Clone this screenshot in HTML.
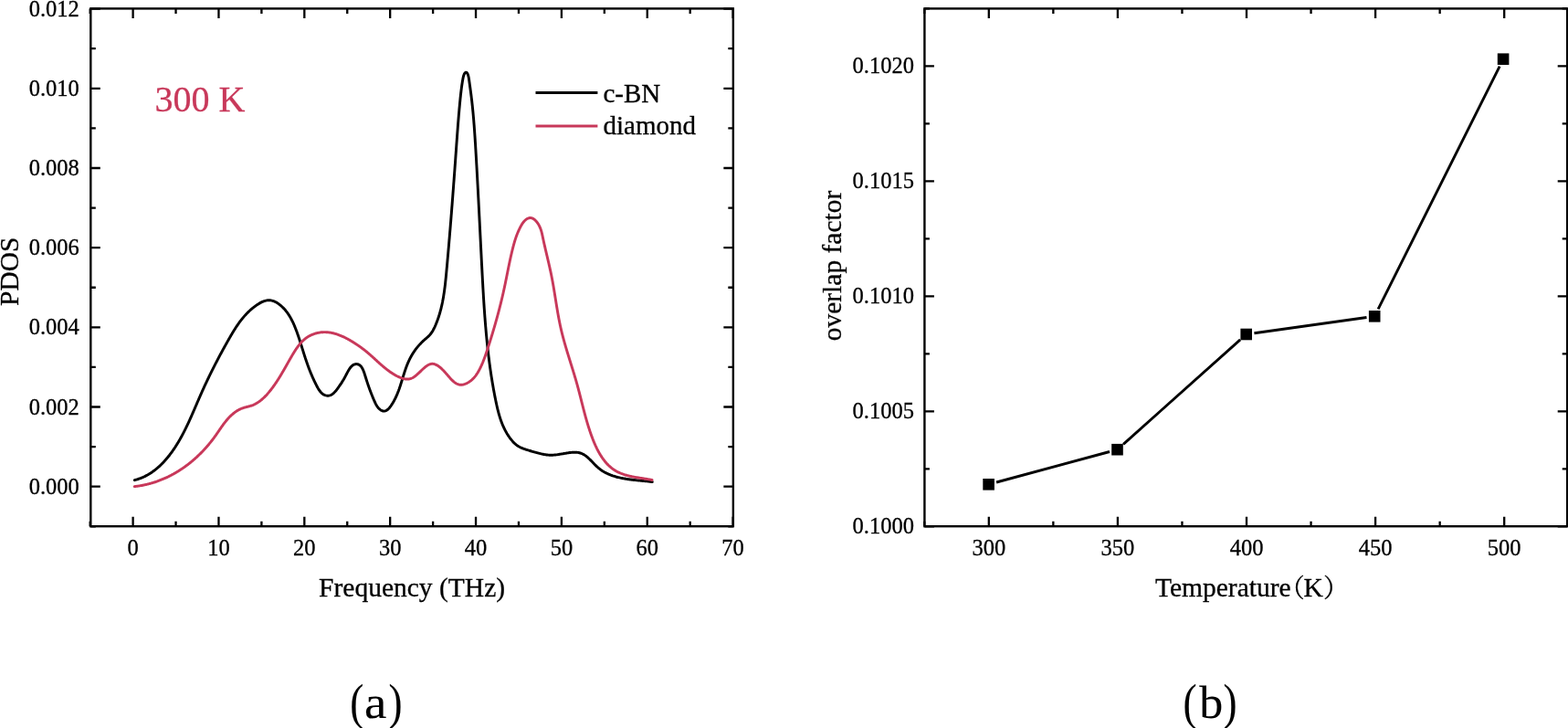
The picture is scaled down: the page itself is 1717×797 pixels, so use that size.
<!DOCTYPE html>
<html><head><meta charset="utf-8"><style>
html,body{margin:0;padding:0;background:#fff;}
body{width:1717px;height:797px;overflow:hidden;}
svg{display:block;font-family:"Liberation Serif","Noto Serif CJK SC",serif;}
text{stroke:currentColor;stroke-width:0.3px;}
</style></head><body>
<svg width="1717" height="797" viewBox="0 0 1717 797">
<rect width="1717" height="797" fill="#fff"/>
<rect x="99.30" y="9.40" width="703.55" height="566.80" fill="none" stroke="#000" stroke-width="2.40"/>
<rect x="1012.40" y="9.40" width="703.80" height="566.80" fill="none" stroke="#000" stroke-width="2.40"/>
<path d="M98.67,576.20V570.70 M98.67,9.40V14.90 M145.60,576.20V565.70 M145.60,9.40V19.90 M192.53,576.20V570.70 M192.53,9.40V14.90 M239.46,576.20V565.70 M239.46,9.40V19.90 M286.39,576.20V570.70 M286.39,9.40V14.90 M333.32,576.20V565.70 M333.32,9.40V19.90 M380.25,576.20V570.70 M380.25,9.40V14.90 M427.18,576.20V565.70 M427.18,9.40V19.90 M474.11,576.20V570.70 M474.11,9.40V14.90 M521.04,576.20V565.70 M521.04,9.40V19.90 M567.97,576.20V570.70 M567.97,9.40V14.90 M614.90,576.20V565.70 M614.90,9.40V19.90 M661.83,576.20V570.70 M661.83,9.40V14.90 M708.76,576.20V565.70 M708.76,9.40V19.90 M755.69,576.20V570.70 M755.69,9.40V14.90 M802.62,576.20V565.70 M802.62,9.40V19.90 M99.30,576.29H104.80 M802.85,576.29H797.35 M99.30,532.70H109.80 M802.85,532.70H792.35 M99.30,489.11H104.80 M802.85,489.11H797.35 M99.30,445.52H109.80 M802.85,445.52H792.35 M99.30,401.93H104.80 M802.85,401.93H797.35 M99.30,358.34H109.80 M802.85,358.34H792.35 M99.30,314.75H104.80 M802.85,314.75H797.35 M99.30,271.16H109.80 M802.85,271.16H792.35 M99.30,227.57H104.80 M802.85,227.57H797.35 M99.30,183.98H109.80 M802.85,183.98H792.35 M99.30,140.39H104.80 M802.85,140.39H797.35 M99.30,96.80H109.80 M802.85,96.80H792.35 M99.30,53.21H104.80 M802.85,53.21H797.35 M99.30,9.62H109.80 M802.85,9.62H792.35 M1012.25,576.20V570.70 M1012.25,9.40V14.90 M1082.80,576.20V565.70 M1082.80,9.40V19.90 M1153.35,576.20V570.70 M1153.35,9.40V14.90 M1223.90,576.20V565.70 M1223.90,9.40V19.90 M1294.45,576.20V570.70 M1294.45,9.40V14.90 M1365.00,576.20V565.70 M1365.00,9.40V19.90 M1435.55,576.20V570.70 M1435.55,9.40V14.90 M1506.10,576.20V565.70 M1506.10,9.40V19.90 M1576.65,576.20V570.70 M1576.65,9.40V14.90 M1647.20,576.20V565.70 M1647.20,9.40V19.90 M1012.40,576.30H1022.90 M1716.20,576.30H1705.70 M1012.40,513.30H1017.90 M1716.20,513.30H1710.70 M1012.40,450.30H1022.90 M1716.20,450.30H1705.70 M1012.40,387.30H1017.90 M1716.20,387.30H1710.70 M1012.40,324.30H1022.90 M1716.20,324.30H1705.70 M1012.40,261.30H1017.90 M1716.20,261.30H1710.70 M1012.40,198.30H1022.90 M1716.20,198.30H1705.70 M1012.40,135.30H1017.90 M1716.20,135.30H1710.70 M1012.40,72.30H1022.90 M1716.20,72.30H1705.70 M1012.40,9.30H1017.90 M1716.20,9.30H1710.70" stroke="#000" stroke-width="2.3" fill="none"/>
<path d="M147.34,525.63 L148.32,525.38 L149.29,525.11 L150.25,524.82 L151.20,524.52 L152.14,524.20 L153.07,523.87 L154.00,523.52 L154.91,523.16 L155.82,522.78 L156.72,522.39 L157.61,521.98 L158.49,521.56 L159.36,521.12 L160.23,520.67 L161.08,520.21 L161.93,519.73 L162.77,519.25 L163.60,518.75 L164.43,518.23 L165.24,517.71 L166.05,517.17 L166.85,516.62 L167.64,516.06 L168.42,515.49 L169.20,514.90 L169.97,514.31 L170.73,513.71 L171.48,513.09 L172.23,512.47 L172.96,511.83 L173.70,511.19 L174.42,510.54 L175.13,509.87 L175.84,509.20 L176.54,508.52 L177.24,507.84 L177.92,507.14 L178.60,506.44 L179.28,505.73 L179.94,505.01 L180.60,504.28 L181.25,503.55 L181.90,502.81 L182.53,502.06 L183.17,501.31 L183.79,500.55 L184.41,499.79 L185.02,499.02 L185.63,498.25 L186.22,497.47 L186.82,496.68 L187.40,495.89 L187.98,495.10 L188.56,494.30 L189.12,493.50 L189.68,492.70 L190.24,491.89 L190.79,491.08 L191.33,490.27 L191.87,489.45 L192.40,488.63 L192.93,487.81 L193.45,486.98 L193.97,486.15 L194.48,485.32 L194.98,484.49 L195.48,483.65 L195.98,482.81 L196.47,481.97 L196.95,481.13 L197.43,480.28 L197.91,479.43 L198.38,478.58 L198.85,477.72 L199.32,476.87 L199.78,476.01 L200.23,475.15 L200.69,474.29 L201.13,473.42 L201.58,472.56 L202.02,471.69 L202.46,470.82 L202.89,469.94 L203.33,469.07 L203.75,468.20 L204.18,467.32 L204.60,466.44 L205.02,465.56 L205.44,464.68 L205.86,463.79 L206.27,462.91 L206.68,462.02 L207.09,461.14 L207.49,460.25 L207.90,459.36 L208.30,458.47 L208.70,457.58 L209.10,456.69 L209.49,455.79 L209.89,454.90 L210.28,454.00 L210.68,453.11 L211.07,452.21 L211.46,451.31 L211.85,450.42 L212.24,449.52 L212.63,448.62 L213.02,447.72 L213.40,446.82 L213.79,445.92 L214.18,445.02 L214.57,444.12 L214.95,443.22 L215.34,442.32 L215.73,441.42 L216.11,440.52 L216.50,439.62 L216.89,438.72 L217.28,437.82 L217.67,436.92 L218.06,436.02 L218.45,435.12 L218.84,434.22 L219.23,433.32 L219.63,432.42 L220.03,431.53 L220.42,430.63 L220.82,429.74 L221.22,428.84 L221.62,427.95 L222.03,427.05 L222.43,426.16 L222.84,425.27 L223.25,424.37 L223.66,423.48 L224.07,422.59 L224.48,421.70 L224.89,420.81 L225.31,419.93 L225.73,419.04 L226.14,418.15 L226.56,417.26 L226.98,416.38 L227.41,415.49 L227.83,414.61 L228.26,413.73 L228.68,412.84 L229.11,411.96 L229.54,411.08 L229.97,410.20 L230.40,409.32 L230.83,408.44 L231.27,407.56 L231.70,406.68 L232.14,405.80 L232.58,404.93 L233.02,404.05 L233.46,403.18 L233.90,402.30 L234.35,401.43 L234.79,400.56 L235.24,399.68 L235.68,398.81 L236.13,397.94 L236.58,397.07 L237.03,396.20 L237.48,395.33 L237.94,394.46 L238.39,393.60 L238.85,392.73 L239.30,391.87 L239.76,391.00 L240.22,390.14 L240.68,389.27 L241.14,388.41 L241.61,387.55 L242.07,386.69 L242.53,385.83 L243.00,384.97 L243.47,384.11 L243.93,383.25 L244.40,382.39 L244.87,381.54 L245.35,380.68 L245.82,379.82 L246.29,378.97 L246.77,378.12 L247.24,377.26 L247.72,376.41 L248.20,375.56 L248.67,374.71 L249.15,373.86 L249.64,373.01 L250.12,372.16 L250.60,371.32 L251.08,370.47 L251.57,369.62 L252.06,368.78 L252.54,367.94 L253.04,367.10 L253.53,366.26 L254.03,365.42 L254.52,364.58 L255.03,363.75 L255.53,362.92 L256.04,362.09 L256.56,361.27 L257.07,360.45 L257.60,359.63 L258.12,358.81 L258.65,358.00 L259.19,357.20 L259.73,356.39 L260.28,355.59 L260.83,354.80 L261.39,354.00 L261.96,353.22 L262.53,352.44 L263.11,351.66 L263.70,350.89 L264.29,350.12 L264.89,349.36 L265.50,348.60 L266.12,347.85 L266.75,347.11 L267.38,346.37 L268.03,345.64 L268.68,344.92 L269.34,344.20 L270.01,343.49 L270.70,342.79 L271.39,342.09 L272.09,341.40 L272.80,340.72 L273.53,340.04 L274.26,339.38 L275.01,338.72 L275.77,338.07 L276.54,337.43 L277.32,336.80 L278.11,336.17 L278.92,335.56 L279.74,334.95 L280.57,334.36 L281.42,333.77 L282.27,333.20 L283.14,332.65 L284.02,332.12 L284.90,331.62 L285.80,331.14 L286.70,330.70 L287.60,330.29 L288.51,329.92 L289.43,329.59 L290.35,329.31 L291.27,329.08 L292.19,328.90 L293.11,328.78 L294.03,328.71 L294.95,328.71 L295.86,328.77 L296.77,328.90 L297.68,329.09 L298.58,329.33 L299.47,329.63 L300.36,329.98 L301.24,330.37 L302.10,330.81 L302.96,331.29 L303.80,331.81 L304.63,332.36 L305.45,332.94 L306.25,333.55 L307.03,334.19 L307.80,334.84 L308.55,335.52 L309.28,336.21 L309.99,336.91 L310.68,337.62 L311.35,338.35 L312.01,339.08 L312.65,339.83 L313.27,340.59 L313.87,341.37 L314.46,342.15 L315.03,342.94 L315.58,343.74 L316.13,344.55 L316.65,345.37 L317.17,346.20 L317.67,347.04 L318.15,347.88 L318.63,348.74 L319.09,349.59 L319.54,350.46 L319.98,351.33 L320.42,352.21 L320.84,353.10 L321.25,353.99 L321.65,354.88 L322.04,355.79 L322.43,356.69 L322.81,357.60 L323.18,358.51 L323.54,359.43 L323.90,360.34 L324.25,361.27 L324.60,362.19 L324.94,363.11 L325.28,364.04 L325.62,364.97 L325.94,365.90 L326.27,366.83 L326.59,367.77 L326.91,368.70 L327.22,369.64 L327.54,370.57 L327.84,371.51 L328.15,372.45 L328.45,373.38 L328.75,374.32 L329.05,375.26 L329.35,376.20 L329.65,377.14 L329.94,378.08 L330.23,379.01 L330.53,379.95 L330.82,380.88 L331.11,381.82 L331.40,382.75 L331.69,383.69 L331.98,384.62 L332.27,385.55 L332.56,386.47 L332.85,387.40 L333.15,388.33 L333.44,389.25 L333.74,390.17 L334.04,391.08 L334.33,392.00 L334.64,392.91 L334.94,393.83 L335.25,394.74 L335.56,395.64 L335.87,396.55 L336.18,397.46 L336.50,398.36 L336.82,399.26 L337.15,400.17 L337.47,401.07 L337.81,401.97 L338.14,402.87 L338.49,403.77 L338.83,404.67 L339.18,405.57 L339.54,406.47 L339.90,407.36 L340.26,408.26 L340.64,409.16 L341.01,410.06 L341.40,410.96 L341.79,411.87 L342.18,412.77 L342.58,413.67 L342.99,414.58 L343.41,415.48 L343.83,416.39 L344.26,417.30 L344.70,418.21 L345.14,419.12 L345.60,420.03 L346.06,420.95 L346.53,421.87 L347.00,422.79 L347.49,423.70 L348.00,424.61 L348.51,425.50 L349.05,426.37 L349.60,427.22 L350.18,428.03 L350.78,428.80 L351.41,429.53 L352.07,430.21 L352.77,430.84 L353.49,431.40 L354.26,431.89 L355.06,432.31 L355.89,432.65 L356.74,432.92 L357.62,433.10 L358.50,433.19 L359.39,433.19 L360.27,433.10 L361.14,432.91 L362.00,432.62 L362.83,432.22 L363.65,431.74 L364.44,431.17 L365.21,430.53 L365.95,429.83 L366.68,429.08 L367.38,428.29 L368.07,427.47 L368.73,426.63 L369.37,425.78 L369.99,424.93 L370.59,424.09 L371.17,423.27 L371.74,422.47 L372.28,421.68 L372.81,420.91 L373.33,420.13 L373.84,419.37 L374.33,418.60 L374.82,417.83 L375.30,417.05 L375.77,416.27 L376.25,415.47 L376.72,414.65 L377.19,413.82 L377.66,412.96 L378.13,412.08 L378.61,411.17 L379.09,410.24 L379.59,409.28 L380.09,408.31 L380.61,407.34 L381.14,406.38 L381.68,405.43 L382.24,404.51 L382.82,403.63 L383.42,402.78 L384.05,401.99 L384.70,401.26 L385.37,400.60 L386.08,400.02 L386.81,399.53 L387.58,399.13 L388.38,398.84 L389.19,398.66 L390.02,398.58 L390.84,398.60 L391.65,398.73 L392.44,398.97 L393.19,399.31 L393.90,399.76 L394.56,400.31 L395.18,400.95 L395.75,401.67 L396.29,402.47 L396.79,403.34 L397.25,404.26 L397.69,405.23 L398.11,406.24 L398.50,407.27 L398.87,408.32 L399.22,409.39 L399.56,410.45 L399.89,411.51 L400.21,412.54 L400.53,413.56 L400.84,414.55 L401.15,415.53 L401.46,416.48 L401.76,417.42 L402.06,418.34 L402.36,419.25 L402.66,420.14 L402.96,421.03 L403.26,421.90 L403.56,422.77 L403.86,423.63 L404.16,424.48 L404.47,425.33 L404.78,426.18 L405.09,427.03 L405.41,427.88 L405.73,428.73 L406.06,429.59 L406.39,430.45 L406.74,431.32 L407.09,432.19 L407.44,433.08 L407.81,433.98 L408.18,434.89 L408.57,435.81 L408.96,436.75 L409.37,437.71 L409.79,438.69 L410.22,439.67 L410.68,440.66 L411.15,441.64 L411.66,442.60 L412.19,443.55 L412.75,444.46 L413.35,445.35 L414.00,446.18 L414.68,446.97 L415.41,447.69 L416.19,448.34 L416.99,448.91 L417.80,449.39 L418.63,449.75 L419.45,449.99 L420.26,450.10 L421.04,450.07 L421.81,449.92 L422.56,449.65 L423.29,449.27 L424.00,448.80 L424.69,448.24 L425.37,447.62 L426.02,446.92 L426.66,446.18 L427.27,445.39 L427.87,444.58 L428.45,443.74 L429.02,442.89 L429.57,442.04 L430.10,441.18 L430.61,440.31 L431.11,439.44 L431.59,438.56 L432.06,437.68 L432.52,436.80 L432.96,435.91 L433.39,435.01 L433.80,434.12 L434.21,433.22 L434.60,432.31 L434.99,431.40 L435.36,430.49 L435.72,429.57 L436.08,428.66 L436.43,427.74 L436.76,426.81 L437.10,425.89 L437.42,424.96 L437.74,424.03 L438.05,423.10 L438.36,422.17 L438.66,421.24 L438.96,420.30 L439.26,419.37 L439.55,418.43 L439.84,417.49 L440.13,416.56 L440.42,415.62 L440.70,414.68 L440.99,413.75 L441.28,412.81 L441.56,411.88 L441.85,410.94 L442.15,410.01 L442.44,409.08 L442.74,408.15 L443.04,407.22 L443.34,406.29 L443.65,405.37 L443.97,404.45 L444.29,403.53 L444.62,402.61 L444.95,401.70 L445.30,400.79 L445.65,399.88 L446.01,398.97 L446.37,398.07 L446.75,397.18 L447.14,396.29 L447.54,395.40 L447.95,394.51 L448.37,393.63 L448.81,392.76 L449.26,391.89 L449.72,391.03 L450.19,390.17 L450.67,389.32 L451.17,388.47 L451.68,387.63 L452.20,386.80 L452.73,385.97 L453.28,385.15 L453.84,384.34 L454.40,383.53 L454.98,382.74 L455.58,381.95 L456.18,381.17 L456.79,380.39 L457.42,379.63 L458.06,378.87 L458.71,378.13 L459.37,377.39 L460.04,376.66 L460.72,375.95 L461.41,375.24 L462.11,374.54 L462.83,373.86 L463.55,373.18 L464.29,372.51 L465.03,371.86 L465.77,371.20 L466.52,370.55 L467.26,369.90 L467.99,369.24 L468.71,368.57 L469.41,367.89 L470.09,367.20 L470.75,366.49 L471.39,365.76 L471.99,365.01 L472.56,364.23 L473.11,363.43 L473.62,362.61 L474.11,361.77 L474.58,360.91 L475.03,360.05 L475.46,359.17 L475.88,358.29 L476.28,357.40 L476.68,356.50 L477.07,355.61 L477.44,354.71 L477.81,353.81 L478.17,352.90 L478.53,351.99 L478.87,351.08 L479.20,350.17 L479.53,349.26 L479.85,348.34 L480.16,347.42 L480.46,346.50 L480.76,345.57 L481.05,344.65 L481.33,343.72 L481.60,342.78 L481.87,341.85 L482.13,340.92 L482.38,339.98 L482.63,339.04 L482.87,338.10 L483.10,337.15 L483.33,336.21 L483.55,335.26 L483.76,334.31 L483.97,333.36 L484.18,332.41 L484.37,331.45 L484.57,330.50 L484.75,329.54 L484.94,328.58 L485.11,327.62 L485.29,326.66 L485.45,325.70 L485.62,324.73 L485.78,323.77 L485.93,322.80 L486.08,321.83 L486.23,320.86 L486.37,319.89 L486.51,318.92 L486.64,317.95 L486.77,316.98 L486.90,316.01 L487.03,315.03 L487.15,314.06 L487.27,313.08 L487.38,312.10 L487.50,311.13 L487.61,310.15 L487.72,309.17 L487.82,308.19 L487.93,307.21 L488.03,306.24 L488.13,305.26 L488.23,304.28 L488.33,303.30 L488.42,302.32 L488.52,301.33 L488.61,300.35 L488.70,299.37 L488.80,298.39 L488.89,297.41 L488.98,296.43 L489.07,295.45 L489.16,294.47 L489.25,293.49 L489.34,292.51 L489.43,291.53 L489.52,290.56 L489.60,289.58 L489.69,288.60 L489.78,287.62 L489.87,286.64 L489.96,285.66 L490.04,284.69 L490.13,283.71 L490.22,282.73 L490.30,281.75 L490.39,280.78 L490.48,279.80 L490.56,278.82 L490.65,277.85 L490.73,276.87 L490.82,275.89 L490.90,274.92 L490.99,273.94 L491.07,272.97 L491.16,271.99 L491.24,271.02 L491.33,270.04 L491.41,269.06 L491.49,268.09 L491.58,267.11 L491.66,266.14 L491.74,265.17 L491.82,264.19 L491.91,263.22 L491.99,262.24 L492.07,261.27 L492.15,260.29 L492.23,259.32 L492.32,258.35 L492.40,257.37 L492.48,256.40 L492.56,255.42 L492.64,254.45 L492.72,253.48 L492.80,252.50 L492.88,251.53 L492.96,250.56 L493.04,249.58 L493.12,248.61 L493.20,247.64 L493.28,246.67 L493.35,245.69 L493.43,244.72 L493.51,243.75 L493.59,242.77 L493.67,241.80 L493.75,240.83 L493.82,239.86 L493.90,238.88 L493.98,237.91 L494.06,236.94 L494.13,235.97 L494.21,234.99 L494.29,234.02 L494.36,233.05 L494.44,232.08 L494.52,231.10 L494.59,230.13 L494.67,229.16 L494.74,228.19 L494.82,227.21 L494.89,226.24 L494.97,225.27 L495.05,224.30 L495.12,223.33 L495.20,222.35 L495.27,221.38 L495.35,220.41 L495.42,219.44 L495.49,218.46 L495.57,217.49 L495.64,216.52 L495.72,215.54 L495.79,214.57 L495.86,213.60 L495.94,212.63 L496.01,211.65 L496.08,210.68 L496.16,209.71 L496.23,208.73 L496.30,207.76 L496.38,206.79 L496.45,205.81 L496.52,204.84 L496.60,203.87 L496.67,202.89 L496.74,201.92 L496.81,200.95 L496.89,199.97 L496.96,199.00 L497.03,198.02 L497.10,197.05 L497.17,196.08 L497.24,195.10 L497.32,194.13 L497.39,193.15 L497.46,192.18 L497.53,191.20 L497.60,190.23 L497.67,189.25 L497.74,188.28 L497.82,187.30 L497.89,186.33 L497.96,185.35 L498.03,184.38 L498.10,183.40 L498.17,182.42 L498.24,181.45 L498.31,180.47 L498.38,179.49 L498.45,178.52 L498.52,177.54 L498.59,176.56 L498.66,175.59 L498.73,174.61 L498.80,173.63 L498.87,172.65 L498.94,171.67 L499.01,170.70 L499.08,169.72 L499.15,168.74 L499.22,167.76 L499.29,166.78 L499.36,165.80 L499.43,164.82 L499.50,163.84 L499.57,162.86 L499.64,161.88 L499.71,160.90 L499.78,159.92 L499.85,158.94 L499.92,157.96 L499.99,156.98 L500.06,156.00 L500.13,155.02 L500.20,154.04 L500.27,153.06 L500.35,152.08 L500.42,151.10 L500.49,150.12 L500.56,149.14 L500.63,148.16 L500.70,147.18 L500.78,146.20 L500.85,145.22 L500.92,144.24 L500.99,143.26 L501.07,142.29 L501.14,141.31 L501.21,140.33 L501.29,139.35 L501.36,138.38 L501.44,137.40 L501.52,136.42 L501.59,135.45 L501.67,134.47 L501.75,133.50 L501.82,132.52 L501.90,131.55 L501.98,130.58 L502.06,129.61 L502.14,128.63 L502.22,127.66 L502.30,126.69 L502.38,125.72 L502.46,124.75 L502.55,123.79 L502.63,122.82 L502.72,121.85 L502.80,120.89 L502.89,119.92 L502.97,118.96 L503.06,117.99 L503.15,117.03 L503.24,116.07 L503.33,115.11 L503.42,114.15 L503.51,113.19 L503.60,112.23 L503.69,111.28 L503.79,110.32 L503.88,109.37 L503.98,108.41 L504.07,107.46 L504.17,106.51 L504.27,105.56 L504.37,104.61 L504.47,103.65 L504.58,102.70 L504.69,101.74 L504.80,100.77 L504.91,99.80 L505.03,98.83 L505.15,97.84 L505.28,96.85 L505.41,95.85 L505.55,94.84 L505.69,93.82 L505.84,92.78 L506.00,91.74 L506.16,90.68 L506.33,89.60 L506.51,88.51 L506.70,87.41 L506.90,86.31 L507.11,85.23 L507.34,84.18 L507.60,83.19 L507.89,82.27 L508.21,81.44 L508.56,80.71 L508.93,80.11 L509.33,79.64 L509.74,79.33 L510.16,79.18 L510.57,79.21 L510.98,79.42 L511.37,79.79 L511.74,80.31 L512.09,80.96 L512.41,81.72 L512.68,82.59 L512.93,83.53 L513.14,84.55 L513.33,85.61 L513.51,86.70 L513.67,87.80 L513.83,88.90 L513.98,89.98 L514.13,91.05 L514.28,92.11 L514.43,93.15 L514.57,94.18 L514.71,95.20 L514.85,96.21 L514.99,97.21 L515.12,98.20 L515.26,99.18 L515.39,100.15 L515.51,101.13 L515.64,102.09 L515.76,103.05 L515.89,104.01 L516.01,104.96 L516.12,105.92 L516.24,106.87 L516.36,107.82 L516.47,108.78 L516.58,109.73 L516.69,110.69 L516.80,111.64 L516.90,112.60 L517.01,113.56 L517.11,114.52 L517.21,115.48 L517.32,116.44 L517.41,117.40 L517.51,118.36 L517.61,119.32 L517.70,120.29 L517.80,121.25 L517.89,122.21 L517.98,123.18 L518.07,124.15 L518.16,125.11 L518.24,126.08 L518.33,127.05 L518.41,128.02 L518.50,128.99 L518.58,129.96 L518.66,130.93 L518.74,131.90 L518.82,132.87 L518.89,133.84 L518.97,134.81 L519.05,135.79 L519.12,136.76 L519.20,137.73 L519.27,138.71 L519.34,139.68 L519.41,140.66 L519.48,141.63 L519.55,142.61 L519.62,143.58 L519.69,144.56 L519.76,145.54 L519.82,146.51 L519.89,147.49 L519.95,148.47 L520.02,149.45 L520.08,150.42 L520.15,151.40 L520.21,152.38 L520.27,153.36 L520.33,154.34 L520.39,155.32 L520.46,156.29 L520.52,157.27 L520.58,158.25 L520.64,159.23 L520.70,160.21 L520.75,161.19 L520.81,162.17 L520.87,163.15 L520.93,164.13 L520.99,165.11 L521.05,166.08 L521.10,167.06 L521.16,168.04 L521.22,169.02 L521.27,170.00 L521.33,170.98 L521.39,171.96 L521.44,172.94 L521.50,173.92 L521.56,174.89 L521.61,175.87 L521.67,176.85 L521.72,177.83 L521.78,178.81 L521.84,179.79 L521.89,180.76 L521.95,181.74 L522.00,182.72 L522.05,183.70 L522.11,184.68 L522.16,185.66 L522.22,186.63 L522.27,187.61 L522.33,188.59 L522.38,189.57 L522.43,190.55 L522.49,191.52 L522.54,192.50 L522.59,193.48 L522.65,194.46 L522.70,195.44 L522.75,196.41 L522.80,197.39 L522.86,198.37 L522.91,199.35 L522.96,200.32 L523.01,201.30 L523.07,202.28 L523.12,203.26 L523.17,204.23 L523.22,205.21 L523.27,206.19 L523.33,207.17 L523.38,208.14 L523.43,209.12 L523.48,210.10 L523.53,211.07 L523.58,212.05 L523.63,213.03 L523.68,214.01 L523.73,214.98 L523.78,215.96 L523.84,216.94 L523.89,217.91 L523.94,218.89 L523.99,219.87 L524.04,220.84 L524.09,221.82 L524.14,222.80 L524.19,223.78 L524.24,224.75 L524.29,225.73 L524.34,226.71 L524.39,227.68 L524.44,228.66 L524.49,229.64 L524.54,230.61 L524.59,231.59 L524.64,232.57 L524.68,233.54 L524.73,234.52 L524.78,235.50 L524.83,236.47 L524.88,237.45 L524.93,238.43 L524.98,239.40 L525.03,240.38 L525.08,241.36 L525.13,242.33 L525.18,243.31 L525.23,244.28 L525.28,245.26 L525.33,246.24 L525.37,247.21 L525.42,248.19 L525.47,249.17 L525.52,250.14 L525.57,251.12 L525.62,252.10 L525.67,253.07 L525.72,254.05 L525.77,255.02 L525.81,256.00 L525.86,256.98 L525.91,257.95 L525.96,258.93 L526.01,259.91 L526.06,260.88 L526.11,261.86 L526.16,262.84 L526.21,263.81 L526.26,264.79 L526.31,265.76 L526.35,266.74 L526.40,267.72 L526.45,268.69 L526.50,269.67 L526.55,270.65 L526.60,271.62 L526.65,272.60 L526.70,273.57 L526.75,274.55 L526.80,275.53 L526.85,276.50 L526.90,277.48 L526.95,278.46 L527.00,279.43 L527.05,280.41 L527.09,281.38 L527.14,282.36 L527.19,283.34 L527.24,284.31 L527.29,285.29 L527.34,286.27 L527.39,287.24 L527.44,288.22 L527.49,289.19 L527.54,290.17 L527.60,291.15 L527.65,292.12 L527.70,293.10 L527.75,294.08 L527.80,295.05 L527.85,296.03 L527.90,297.01 L527.95,297.98 L528.00,298.96 L528.05,299.94 L528.10,300.91 L528.16,301.89 L528.21,302.86 L528.26,303.84 L528.31,304.82 L528.36,305.79 L528.42,306.77 L528.47,307.75 L528.52,308.72 L528.57,309.70 L528.63,310.68 L528.68,311.65 L528.74,312.63 L528.79,313.60 L528.84,314.58 L528.90,315.56 L528.96,316.53 L529.01,317.51 L529.07,318.49 L529.12,319.46 L529.18,320.44 L529.24,321.42 L529.30,322.39 L529.35,323.37 L529.41,324.34 L529.47,325.32 L529.53,326.30 L529.59,327.27 L529.65,328.25 L529.71,329.22 L529.77,330.20 L529.83,331.18 L529.90,332.15 L529.96,333.13 L530.02,334.10 L530.09,335.08 L530.15,336.05 L530.22,337.03 L530.28,338.01 L530.35,338.98 L530.42,339.96 L530.49,340.93 L530.56,341.91 L530.62,342.88 L530.69,343.86 L530.77,344.83 L530.84,345.81 L530.91,346.78 L530.98,347.76 L531.06,348.73 L531.13,349.71 L531.20,350.68 L531.28,351.66 L531.36,352.63 L531.44,353.61 L531.51,354.58 L531.59,355.56 L531.67,356.53 L531.75,357.51 L531.84,358.48 L531.92,359.45 L532.00,360.43 L532.09,361.40 L532.17,362.38 L532.26,363.35 L532.35,364.32 L532.43,365.30 L532.52,366.27 L532.61,367.25 L532.70,368.22 L532.80,369.19 L532.89,370.17 L532.98,371.14 L533.08,372.11 L533.18,373.08 L533.27,374.06 L533.37,375.03 L533.47,376.00 L533.57,376.98 L533.68,377.95 L533.78,378.92 L533.88,379.89 L533.99,380.86 L534.09,381.84 L534.20,382.81 L534.31,383.78 L534.42,384.75 L534.53,385.72 L534.65,386.70 L534.76,387.67 L534.87,388.64 L534.99,389.61 L535.11,390.58 L535.23,391.55 L535.35,392.52 L535.47,393.49 L535.59,394.46 L535.72,395.43 L535.84,396.40 L535.97,397.37 L536.10,398.34 L536.23,399.31 L536.36,400.28 L536.49,401.25 L536.63,402.22 L536.76,403.19 L536.90,404.16 L537.04,405.13 L537.18,406.10 L537.32,407.07 L537.46,408.04 L537.61,409.00 L537.75,409.97 L537.90,410.94 L538.05,411.91 L538.20,412.88 L538.35,413.84 L538.51,414.81 L538.66,415.78 L538.82,416.75 L538.98,417.71 L539.14,418.68 L539.30,419.65 L539.46,420.61 L539.63,421.58 L539.80,422.55 L539.97,423.51 L540.14,424.48 L540.31,425.44 L540.48,426.41 L540.66,427.37 L540.84,428.34 L541.01,429.30 L541.20,430.27 L541.38,431.23 L541.56,432.20 L541.75,433.16 L541.94,434.13 L542.13,435.09 L542.32,436.05 L542.52,437.02 L542.71,437.98 L542.91,438.94 L543.11,439.91 L543.31,440.87 L543.52,441.83 L543.73,442.79 L543.94,443.75 L544.15,444.71 L544.37,445.67 L544.60,446.62 L544.83,447.58 L545.06,448.53 L545.30,449.48 L545.54,450.43 L545.79,451.38 L546.04,452.32 L546.31,453.26 L546.57,454.20 L546.85,455.14 L547.13,456.07 L547.42,457.00 L547.72,457.92 L548.02,458.85 L548.33,459.77 L548.65,460.68 L548.98,461.59 L549.32,462.50 L549.67,463.41 L550.03,464.30 L550.40,465.20 L550.78,466.09 L551.17,466.97 L551.57,467.85 L551.98,468.73 L552.40,469.60 L552.83,470.46 L553.28,471.32 L553.74,472.17 L554.21,473.02 L554.69,473.86 L555.18,474.69 L555.69,475.52 L556.22,476.34 L556.75,477.16 L557.31,477.97 L557.87,478.77 L558.45,479.56 L559.05,480.35 L559.66,481.13 L560.28,481.90 L560.93,482.66 L561.59,483.41 L562.27,484.14 L562.96,484.85 L563.68,485.54 L564.41,486.20 L565.17,486.83 L565.94,487.44 L566.74,488.00 L567.56,488.53 L568.40,489.03 L569.26,489.49 L570.14,489.92 L571.04,490.32 L571.94,490.70 L572.86,491.06 L573.78,491.40 L574.71,491.72 L575.65,492.03 L576.58,492.33 L577.52,492.62 L578.45,492.92 L579.39,493.20 L580.32,493.49 L581.25,493.77 L582.18,494.05 L583.11,494.32 L584.05,494.59 L584.99,494.86 L585.93,495.13 L586.88,495.39 L587.83,495.65 L588.79,495.90 L589.75,496.16 L590.72,496.40 L591.70,496.64 L592.68,496.87 L593.66,497.09 L594.64,497.29 L595.62,497.48 L596.60,497.65 L597.58,497.80 L598.56,497.93 L599.53,498.03 L600.50,498.12 L601.46,498.17 L602.42,498.20 L603.38,498.21 L604.33,498.19 L605.28,498.16 L606.23,498.11 L607.17,498.03 L608.12,497.95 L609.06,497.84 L610.01,497.73 L610.95,497.60 L611.90,497.46 L612.86,497.32 L613.81,497.16 L614.77,497.01 L615.74,496.84 L616.71,496.68 L617.68,496.51 L618.67,496.34 L619.66,496.18 L620.66,496.01 L621.66,495.86 L622.67,495.71 L623.69,495.57 L624.70,495.45 L625.72,495.35 L626.73,495.26 L627.74,495.20 L628.74,495.17 L629.73,495.17 L630.72,495.20 L631.69,495.27 L632.64,495.37 L633.58,495.52 L634.50,495.72 L635.40,495.96 L636.28,496.25 L637.14,496.59 L637.98,496.97 L638.80,497.40 L639.61,497.87 L640.39,498.37 L641.17,498.91 L641.93,499.47 L642.68,500.07 L643.42,500.69 L644.15,501.34 L644.88,502.00 L645.59,502.69 L646.31,503.39 L647.01,504.10 L647.72,504.81 L648.42,505.54 L649.12,506.27 L649.82,507.00 L650.53,507.73 L651.24,508.46 L651.95,509.18 L652.67,509.89 L653.40,510.58 L654.13,511.26 L654.87,511.93 L655.63,512.57 L656.40,513.19 L657.17,513.79 L657.96,514.37 L658.76,514.92 L659.57,515.46 L660.39,515.98 L661.22,516.48 L662.06,516.95 L662.91,517.42 L663.76,517.86 L664.63,518.28 L665.50,518.69 L666.38,519.08 L667.27,519.46 L668.16,519.82 L669.06,520.17 L669.97,520.50 L670.88,520.82 L671.80,521.12 L672.72,521.41 L673.65,521.69 L674.58,521.96 L675.52,522.21 L676.46,522.46 L677.41,522.69 L678.36,522.92 L679.31,523.13 L680.27,523.33 L681.22,523.53 L682.18,523.72 L683.15,523.89 L684.11,524.07 L685.08,524.23 L686.05,524.39 L687.02,524.54 L687.99,524.68 L688.97,524.82 L689.94,524.95 L690.92,525.08 L691.90,525.20 L692.88,525.31 L693.86,525.43 L694.84,525.54 L695.82,525.64 L696.80,525.75 L697.78,525.85 L698.76,525.95 L699.74,526.04 L700.71,526.14 L701.69,526.23 L702.67,526.33 L703.64,526.42 L704.62,526.51 L705.59,526.61 L706.56,526.70 L707.53,526.79 L708.50,526.89 L709.47,526.99 L710.43,527.09 L711.39,527.19 L712.35,527.30 L713.31,527.41 L714.26,527.52" stroke="#000" stroke-width="2.95" fill="none" stroke-linejoin="round" stroke-linecap="round"/>
<path d="M147.21,532.62 L147.90,532.54 L148.58,532.46 L149.27,532.38 L149.95,532.29 L150.63,532.20 L151.31,532.10 L151.98,532.00 L152.66,531.89 L153.33,531.79 L154.01,531.67 L154.68,531.56 L155.35,531.43 L156.02,531.31 L156.68,531.18 L157.35,531.05 L158.02,530.91 L158.68,530.77 L159.34,530.62 L160.00,530.47 L160.66,530.32 L161.32,530.16 L161.97,530.00 L162.63,529.83 L163.28,529.66 L163.93,529.49 L164.58,529.31 L165.23,529.13 L165.88,528.95 L166.53,528.76 L167.17,528.57 L167.81,528.37 L168.45,528.17 L169.09,527.97 L169.73,527.76 L170.37,527.55 L171.00,527.33 L171.64,527.12 L172.27,526.89 L172.90,526.67 L173.53,526.44 L174.16,526.21 L174.78,525.97 L175.41,525.73 L176.03,525.49 L176.65,525.24 L177.27,524.99 L177.89,524.73 L178.50,524.48 L179.12,524.21 L179.73,523.95 L180.34,523.68 L180.95,523.41 L181.56,523.13 L182.16,522.86 L182.77,522.57 L183.37,522.29 L183.97,522.00 L184.57,521.71 L185.17,521.41 L185.77,521.11 L186.36,520.81 L186.95,520.51 L187.55,520.20 L188.13,519.89 L188.72,519.57 L189.31,519.25 L189.89,518.93 L190.47,518.61 L191.05,518.28 L191.63,517.95 L192.21,517.61 L192.79,517.28 L193.36,516.94 L193.93,516.59 L194.50,516.25 L195.07,515.90 L195.64,515.55 L196.20,515.19 L196.76,514.83 L197.32,514.47 L197.88,514.11 L198.44,513.74 L199.00,513.37 L199.55,513.00 L200.10,512.62 L200.65,512.24 L201.20,511.86 L201.74,511.48 L202.29,511.09 L202.83,510.70 L203.37,510.31 L203.91,509.91 L204.45,509.51 L204.98,509.11 L205.51,508.71 L206.04,508.30 L206.57,507.89 L207.10,507.48 L207.62,507.06 L208.15,506.65 L208.67,506.23 L209.19,505.80 L209.70,505.38 L210.22,504.95 L210.73,504.52 L211.24,504.09 L211.75,503.65 L212.26,503.21 L212.76,502.77 L213.27,502.33 L213.77,501.89 L214.27,501.44 L214.76,500.99 L215.26,500.54 L215.75,500.08 L216.24,499.62 L216.73,499.16 L217.22,498.70 L217.70,498.24 L218.18,497.77 L218.66,497.30 L219.14,496.83 L219.62,496.36 L220.09,495.88 L220.56,495.40 L221.03,494.92 L221.50,494.44 L221.97,493.95 L222.43,493.47 L222.89,492.98 L223.35,492.49 L223.81,491.99 L224.26,491.50 L224.71,491.00 L225.16,490.50 L225.61,490.00 L226.06,489.50 L226.50,488.99 L226.94,488.48 L227.38,487.97 L227.82,487.46 L228.25,486.95 L228.69,486.43 L229.12,485.91 L229.54,485.39 L229.97,484.87 L230.39,484.35 L230.81,483.82 L231.23,483.30 L231.65,482.77 L232.06,482.24 L232.48,481.71 L232.89,481.17 L233.29,480.64 L233.70,480.10 L234.10,479.56 L234.50,479.02 L234.90,478.48 L235.30,477.93 L235.69,477.39 L236.08,476.84 L236.47,476.29 L236.86,475.74 L237.24,475.19 L237.63,474.64 L238.01,474.08 L238.39,473.53 L238.77,472.98 L239.15,472.42 L239.53,471.87 L239.91,471.31 L240.29,470.76 L240.67,470.21 L241.05,469.65 L241.43,469.10 L241.81,468.55 L242.20,468.00 L242.58,467.45 L242.97,466.90 L243.35,466.36 L243.74,465.82 L244.14,465.27 L244.53,464.74 L244.93,464.20 L245.33,463.66 L245.73,463.13 L246.14,462.60 L246.54,462.08 L246.96,461.56 L247.37,461.04 L247.80,460.52 L248.22,460.01 L248.65,459.50 L249.09,459.00 L249.52,458.50 L249.97,458.00 L250.42,457.51 L250.88,457.03 L251.34,456.55 L251.80,456.07 L252.28,455.60 L252.76,455.14 L253.25,454.68 L253.74,454.23 L254.24,453.78 L254.75,453.34 L255.26,452.91 L255.79,452.48 L256.32,452.06 L256.86,451.65 L257.40,451.24 L257.95,450.85 L258.51,450.46 L259.08,450.09 L259.65,449.72 L260.23,449.37 L260.82,449.03 L261.41,448.70 L262.01,448.38 L262.61,448.08 L263.22,447.78 L263.84,447.51 L264.46,447.25 L265.09,447.00 L265.73,446.77 L266.37,446.55 L267.01,446.35 L267.66,446.16 L268.31,445.98 L268.97,445.80 L269.62,445.63 L270.28,445.47 L270.93,445.30 L271.59,445.13 L272.24,444.97 L272.89,444.79 L273.53,444.61 L274.17,444.43 L274.81,444.23 L275.44,444.02 L276.06,443.79 L276.68,443.56 L277.29,443.31 L277.90,443.04 L278.49,442.77 L279.09,442.48 L279.67,442.18 L280.25,441.86 L280.83,441.54 L281.39,441.20 L281.95,440.86 L282.51,440.50 L283.06,440.14 L283.61,439.76 L284.14,439.37 L284.68,438.98 L285.21,438.58 L285.73,438.16 L286.25,437.74 L286.76,437.31 L287.26,436.88 L287.77,436.43 L288.26,435.98 L288.75,435.52 L289.24,435.06 L289.72,434.59 L290.20,434.11 L290.67,433.63 L291.14,433.14 L291.61,432.65 L292.06,432.15 L292.52,431.65 L292.97,431.14 L293.42,430.63 L293.86,430.12 L294.29,429.60 L294.73,429.08 L295.16,428.56 L295.58,428.04 L296.01,427.51 L296.42,426.99 L296.84,426.46 L297.25,425.93 L297.66,425.39 L298.06,424.86 L298.46,424.32 L298.86,423.79 L299.26,423.25 L299.65,422.71 L300.03,422.16 L300.42,421.62 L300.80,421.08 L301.18,420.53 L301.56,419.98 L301.93,419.43 L302.30,418.88 L302.67,418.33 L303.04,417.78 L303.40,417.22 L303.77,416.67 L304.13,416.11 L304.48,415.55 L304.84,414.99 L305.19,414.43 L305.55,413.87 L305.90,413.30 L306.24,412.74 L306.59,412.17 L306.94,411.61 L307.28,411.04 L307.62,410.47 L307.96,409.90 L308.30,409.33 L308.64,408.76 L308.98,408.19 L309.32,407.61 L309.65,407.04 L309.99,406.46 L310.32,405.89 L310.66,405.31 L310.99,404.73 L311.32,404.15 L311.65,403.57 L311.99,402.99 L312.32,402.41 L312.65,401.83 L312.98,401.25 L313.31,400.66 L313.64,400.08 L313.97,399.49 L314.30,398.91 L314.64,398.32 L314.97,397.74 L315.30,397.15 L315.63,396.56 L315.97,395.97 L316.30,395.38 L316.64,394.79 L316.97,394.20 L317.31,393.61 L317.65,393.02 L317.99,392.43 L318.33,391.84 L318.67,391.25 L319.01,390.66 L319.35,390.07 L319.70,389.48 L320.05,388.88 L320.40,388.29 L320.75,387.70 L321.10,387.12 L321.46,386.53 L321.82,385.94 L322.18,385.36 L322.54,384.78 L322.91,384.20 L323.28,383.63 L323.65,383.05 L324.03,382.48 L324.41,381.92 L324.80,381.36 L325.19,380.80 L325.58,380.25 L325.98,379.70 L326.38,379.16 L326.79,378.62 L327.20,378.09 L327.62,377.56 L328.04,377.04 L328.47,376.53 L328.90,376.02 L329.34,375.52 L329.78,375.03 L330.23,374.54 L330.69,374.06 L331.15,373.59 L331.62,373.13 L332.10,372.68 L332.58,372.23 L333.07,371.79 L333.57,371.37 L334.08,370.95 L334.59,370.54 L335.11,370.15 L335.64,369.76 L336.17,369.38 L336.72,369.02 L337.27,368.66 L337.83,368.32 L338.40,367.99 L338.98,367.67 L339.56,367.36 L340.16,367.07 L340.76,366.78 L341.37,366.51 L341.98,366.25 L342.60,366.01 L343.23,365.77 L343.86,365.55 L344.50,365.34 L345.14,365.14 L345.79,364.95 L346.44,364.78 L347.10,364.62 L347.76,364.47 L348.42,364.33 L349.08,364.20 L349.75,364.09 L350.41,363.99 L351.08,363.90 L351.75,363.82 L352.42,363.76 L353.09,363.71 L353.76,363.67 L354.43,363.65 L355.10,363.63 L355.76,363.63 L356.43,363.64 L357.09,363.67 L357.75,363.70 L358.42,363.75 L359.08,363.81 L359.74,363.87 L360.39,363.95 L361.05,364.05 L361.70,364.15 L362.36,364.26 L363.01,364.38 L363.66,364.51 L364.31,364.65 L364.96,364.80 L365.60,364.96 L366.25,365.13 L366.89,365.31 L367.53,365.50 L368.17,365.69 L368.81,365.90 L369.44,366.11 L370.08,366.33 L370.71,366.55 L371.34,366.79 L371.97,367.03 L372.60,367.28 L373.22,367.54 L373.85,367.80 L374.47,368.07 L375.09,368.34 L375.70,368.62 L376.32,368.91 L376.93,369.20 L377.54,369.50 L378.15,369.80 L378.76,370.11 L379.36,370.43 L379.96,370.74 L380.56,371.07 L381.16,371.39 L381.76,371.72 L382.35,372.06 L382.94,372.39 L383.53,372.73 L384.12,373.08 L384.70,373.43 L385.28,373.78 L385.86,374.13 L386.43,374.48 L387.01,374.84 L387.58,375.20 L388.15,375.56 L388.71,375.92 L389.28,376.29 L389.84,376.65 L390.40,377.02 L390.95,377.39 L391.51,377.76 L392.06,378.14 L392.61,378.51 L393.15,378.89 L393.70,379.27 L394.24,379.66 L394.78,380.04 L395.31,380.43 L395.85,380.82 L396.38,381.21 L396.91,381.60 L397.44,382.00 L397.96,382.40 L398.49,382.80 L399.01,383.20 L399.52,383.61 L400.04,384.02 L400.56,384.43 L401.07,384.84 L401.58,385.26 L402.09,385.68 L402.59,386.10 L403.09,386.52 L403.60,386.95 L404.10,387.37 L404.59,387.80 L405.09,388.24 L405.59,388.67 L406.08,389.11 L406.57,389.55 L407.06,389.99 L407.55,390.43 L408.04,390.87 L408.53,391.31 L409.02,391.76 L409.51,392.20 L410.00,392.65 L410.49,393.10 L410.98,393.55 L411.47,393.99 L411.96,394.44 L412.45,394.89 L412.94,395.34 L413.43,395.79 L413.93,396.24 L414.42,396.69 L414.92,397.14 L415.42,397.58 L415.92,398.03 L416.42,398.48 L416.92,398.92 L417.42,399.36 L417.93,399.81 L418.44,400.25 L418.95,400.69 L419.47,401.13 L419.98,401.56 L420.50,402.00 L421.03,402.43 L421.56,402.86 L422.09,403.29 L422.62,403.71 L423.16,404.14 L423.70,404.56 L424.24,404.97 L424.79,405.39 L425.34,405.80 L425.90,406.21 L426.47,406.62 L427.03,407.02 L427.60,407.42 L428.18,407.81 L428.76,408.20 L429.35,408.59 L429.94,408.97 L430.53,409.34 L431.13,409.71 L431.73,410.07 L432.33,410.42 L432.94,410.77 L433.54,411.10 L434.15,411.43 L434.76,411.75 L435.37,412.05 L435.99,412.35 L436.60,412.63 L437.22,412.91 L437.83,413.17 L438.45,413.41 L439.06,413.65 L439.67,413.87 L440.28,414.07 L440.89,414.26 L441.50,414.43 L442.11,414.59 L442.72,414.72 L443.32,414.84 L443.92,414.93 L444.52,415.01 L445.12,415.06 L445.72,415.08 L446.31,415.08 L446.90,415.06 L447.49,415.00 L448.08,414.92 L448.66,414.80 L449.24,414.65 L449.82,414.47 L450.40,414.26 L450.97,414.01 L451.54,413.74 L452.11,413.43 L452.68,413.10 L453.24,412.74 L453.80,412.35 L454.36,411.95 L454.92,411.53 L455.47,411.08 L456.03,410.63 L456.58,410.15 L457.13,409.67 L457.68,409.17 L458.23,408.67 L458.77,408.15 L459.32,407.64 L459.87,407.12 L460.41,406.59 L460.95,406.07 L461.50,405.55 L462.04,405.03 L462.58,404.52 L463.12,404.02 L463.66,403.53 L464.21,403.04 L464.75,402.57 L465.29,402.12 L465.83,401.68 L466.38,401.26 L466.92,400.86 L467.46,400.48 L468.01,400.13 L468.55,399.80 L469.10,399.50 L469.65,399.23 L470.20,398.99 L470.75,398.78 L471.30,398.61 L471.85,398.48 L472.40,398.38 L472.96,398.33 L473.52,398.31 L474.08,398.34 L474.64,398.41 L475.20,398.51 L475.77,398.66 L476.33,398.84 L476.89,399.05 L477.46,399.30 L478.02,399.57 L478.58,399.88 L479.14,400.21 L479.71,400.57 L480.26,400.96 L480.82,401.36 L481.38,401.79 L481.93,402.24 L482.48,402.71 L483.02,403.19 L483.57,403.69 L484.11,404.20 L484.64,404.73 L485.17,405.26 L485.70,405.81 L486.22,406.36 L486.74,406.92 L487.25,407.48 L487.76,408.04 L488.26,408.61 L488.75,409.18 L489.25,409.75 L489.73,410.31 L490.22,410.88 L490.70,411.44 L491.18,411.99 L491.66,412.54 L492.14,413.09 L492.62,413.62 L493.09,414.15 L493.57,414.67 L494.04,415.17 L494.52,415.67 L495.00,416.15 L495.48,416.61 L495.96,417.06 L496.44,417.50 L496.93,417.91 L497.42,418.31 L497.91,418.69 L498.41,419.04 L498.91,419.38 L499.42,419.69 L499.93,419.97 L500.45,420.24 L500.97,420.47 L501.50,420.68 L502.04,420.86 L502.58,421.01 L503.14,421.12 L503.70,421.21 L504.27,421.27 L504.85,421.28 L505.44,421.27 L506.04,421.22 L506.65,421.13 L507.27,421.01 L507.89,420.85 L508.52,420.66 L509.16,420.44 L509.79,420.20 L510.42,419.93 L511.06,419.63 L511.68,419.31 L512.31,418.96 L512.92,418.60 L513.53,418.22 L514.12,417.82 L514.71,417.41 L515.28,416.98 L515.83,416.54 L516.37,416.09 L516.90,415.63 L517.41,415.16 L517.91,414.67 L518.39,414.18 L518.86,413.68 L519.32,413.17 L519.77,412.65 L520.20,412.12 L520.63,411.58 L521.04,411.04 L521.44,410.48 L521.84,409.92 L522.22,409.36 L522.59,408.79 L522.96,408.21 L523.31,407.63 L523.66,407.05 L524.00,406.46 L524.33,405.86 L524.66,405.26 L524.98,404.66 L525.29,404.06 L525.60,403.45 L525.90,402.85 L526.20,402.24 L526.49,401.63 L526.77,401.01 L527.06,400.40 L527.34,399.79 L527.61,399.17 L527.88,398.55 L528.14,397.94 L528.41,397.32 L528.66,396.70 L528.92,396.07 L529.17,395.45 L529.41,394.83 L529.66,394.20 L529.90,393.58 L530.14,392.95 L530.37,392.32 L530.60,391.70 L530.83,391.07 L531.06,390.44 L531.29,389.81 L531.51,389.18 L531.73,388.54 L531.95,387.91 L532.16,387.28 L532.38,386.65 L532.59,386.01 L532.81,385.38 L533.02,384.74 L533.23,384.11 L533.44,383.47 L533.64,382.84 L533.85,382.20 L534.06,381.57 L534.27,380.93 L534.47,380.29 L534.68,379.66 L534.88,379.02 L535.09,378.38 L535.29,377.75 L535.50,377.11 L535.70,376.47 L535.90,375.83 L536.10,375.20 L536.31,374.56 L536.51,373.92 L536.71,373.28 L536.91,372.64 L537.11,372.01 L537.31,371.37 L537.51,370.73 L537.70,370.09 L537.90,369.45 L538.10,368.81 L538.30,368.17 L538.49,367.53 L538.69,366.89 L538.88,366.25 L539.08,365.61 L539.27,364.97 L539.46,364.33 L539.66,363.68 L539.85,363.04 L540.04,362.40 L540.23,361.76 L540.42,361.12 L540.61,360.48 L540.80,359.83 L540.99,359.19 L541.18,358.55 L541.37,357.91 L541.55,357.26 L541.74,356.62 L541.93,355.98 L542.11,355.33 L542.30,354.69 L542.48,354.04 L542.66,353.40 L542.85,352.75 L543.03,352.11 L543.21,351.46 L543.39,350.82 L543.57,350.17 L543.75,349.53 L543.93,348.88 L544.11,348.24 L544.29,347.59 L544.47,346.94 L544.64,346.30 L544.82,345.65 L544.99,345.00 L545.17,344.36 L545.34,343.71 L545.51,343.06 L545.69,342.41 L545.86,341.76 L546.03,341.12 L546.20,340.47 L546.37,339.82 L546.54,339.17 L546.71,338.52 L546.88,337.87 L547.04,337.22 L547.21,336.57 L547.38,335.92 L547.54,335.27 L547.71,334.62 L547.87,333.97 L548.03,333.32 L548.19,332.67 L548.36,332.01 L548.52,331.36 L548.68,330.71 L548.84,330.06 L549.00,329.41 L549.15,328.75 L549.31,328.10 L549.47,327.45 L549.62,326.79 L549.78,326.14 L549.93,325.49 L550.09,324.83 L550.24,324.18 L550.39,323.52 L550.54,322.87 L550.69,322.21 L550.84,321.56 L550.99,320.90 L551.14,320.25 L551.29,319.59 L551.43,318.93 L551.58,318.28 L551.72,317.62 L551.87,316.96 L552.01,316.31 L552.15,315.65 L552.29,314.99 L552.44,314.33 L552.58,313.67 L552.71,313.02 L552.85,312.36 L552.99,311.70 L553.13,311.04 L553.27,310.38 L553.40,309.72 L553.54,309.06 L553.67,308.40 L553.81,307.74 L553.94,307.08 L554.08,306.42 L554.21,305.76 L554.34,305.10 L554.48,304.44 L554.61,303.78 L554.74,303.12 L554.87,302.46 L555.01,301.80 L555.14,301.14 L555.27,300.48 L555.40,299.82 L555.53,299.17 L555.67,298.51 L555.80,297.85 L555.93,297.19 L556.06,296.53 L556.20,295.87 L556.33,295.21 L556.46,294.55 L556.59,293.90 L556.73,293.24 L556.86,292.58 L557.00,291.92 L557.13,291.27 L557.27,290.61 L557.40,289.95 L557.54,289.30 L557.67,288.64 L557.81,287.99 L557.95,287.33 L558.09,286.68 L558.23,286.03 L558.36,285.37 L558.51,284.72 L558.65,284.07 L558.79,283.41 L558.93,282.76 L559.07,282.11 L559.22,281.46 L559.36,280.81 L559.51,280.16 L559.66,279.51 L559.81,278.87 L559.96,278.22 L560.11,277.57 L560.26,276.93 L560.41,276.28 L560.57,275.64 L560.72,274.99 L560.88,274.35 L561.04,273.70 L561.20,273.06 L561.36,272.42 L561.52,271.78 L561.68,271.14 L561.85,270.50 L562.02,269.86 L562.19,269.23 L562.36,268.59 L562.53,267.95 L562.70,267.32 L562.88,266.69 L563.06,266.05 L563.24,265.42 L563.43,264.79 L563.62,264.15 L563.81,263.52 L564.00,262.89 L564.20,262.26 L564.41,261.63 L564.62,261.00 L564.83,260.37 L565.04,259.74 L565.27,259.11 L565.49,258.48 L565.72,257.85 L565.96,257.22 L566.20,256.59 L566.45,255.96 L566.70,255.33 L566.96,254.70 L567.23,254.07 L567.50,253.44 L567.78,252.81 L568.06,252.18 L568.36,251.54 L568.65,250.91 L568.96,250.28 L569.28,249.65 L569.60,249.02 L569.93,248.38 L570.27,247.75 L570.61,247.12 L570.97,246.50 L571.34,245.88 L571.71,245.27 L572.10,244.67 L572.50,244.09 L572.91,243.52 L573.33,242.98 L573.77,242.45 L574.22,241.94 L574.69,241.47 L575.17,241.01 L575.66,240.59 L576.17,240.20 L576.69,239.85 L577.22,239.53 L577.75,239.25 L578.30,239.01 L578.85,238.82 L579.40,238.67 L579.95,238.58 L580.50,238.53 L581.05,238.54 L581.59,238.60 L582.13,238.71 L582.66,238.88 L583.19,239.09 L583.71,239.34 L584.23,239.64 L584.73,239.97 L585.23,240.34 L585.72,240.75 L586.20,241.19 L586.66,241.66 L587.12,242.16 L587.57,242.68 L588.00,243.23 L588.42,243.79 L588.83,244.38 L589.22,244.98 L589.60,245.60 L589.96,246.22 L590.31,246.86 L590.64,247.50 L590.95,248.14 L591.24,248.79 L591.52,249.44 L591.78,250.09 L592.02,250.73 L592.25,251.38 L592.46,252.03 L592.66,252.68 L592.85,253.33 L593.03,253.97 L593.20,254.62 L593.36,255.27 L593.52,255.92 L593.67,256.56 L593.81,257.21 L593.95,257.86 L594.09,258.51 L594.23,259.16 L594.36,259.80 L594.50,260.45 L594.63,261.10 L594.77,261.75 L594.91,262.40 L595.05,263.05 L595.19,263.70 L595.34,264.35 L595.48,265.00 L595.62,265.65 L595.77,266.30 L595.91,266.95 L596.06,267.60 L596.21,268.25 L596.36,268.90 L596.51,269.55 L596.66,270.20 L596.81,270.85 L596.96,271.50 L597.11,272.15 L597.26,272.81 L597.41,273.46 L597.57,274.11 L597.72,274.76 L597.87,275.41 L598.03,276.07 L598.18,276.72 L598.33,277.37 L598.49,278.02 L598.64,278.68 L598.80,279.33 L598.95,279.98 L599.11,280.64 L599.26,281.29 L599.41,281.94 L599.57,282.60 L599.72,283.25 L599.88,283.91 L600.03,284.56 L600.18,285.21 L600.34,285.87 L600.49,286.52 L600.64,287.18 L600.80,287.83 L600.95,288.49 L601.10,289.14 L601.25,289.80 L601.40,290.46 L601.55,291.11 L601.70,291.77 L601.84,292.42 L601.99,293.08 L602.14,293.74 L602.28,294.39 L602.43,295.05 L602.57,295.71 L602.71,296.37 L602.86,297.02 L603.00,297.68 L603.14,298.34 L603.28,299.00 L603.41,299.65 L603.55,300.31 L603.69,300.97 L603.82,301.63 L603.95,302.29 L604.08,302.95 L604.21,303.61 L604.34,304.27 L604.47,304.92 L604.60,305.58 L604.72,306.24 L604.84,306.90 L604.97,307.56 L605.09,308.22 L605.21,308.88 L605.33,309.54 L605.45,310.20 L605.56,310.87 L605.68,311.53 L605.80,312.19 L605.91,312.85 L606.03,313.51 L606.14,314.17 L606.25,314.83 L606.36,315.49 L606.48,316.15 L606.59,316.81 L606.70,317.48 L606.81,318.14 L606.92,318.80 L607.02,319.46 L607.13,320.12 L607.24,320.78 L607.35,321.44 L607.45,322.11 L607.56,322.77 L607.67,323.43 L607.77,324.09 L607.88,324.75 L607.99,325.41 L608.09,326.07 L608.20,326.74 L608.30,327.40 L608.41,328.06 L608.51,328.72 L608.62,329.38 L608.73,330.04 L608.83,330.70 L608.94,331.37 L609.04,332.03 L609.15,332.69 L609.26,333.35 L609.37,334.01 L609.47,334.67 L609.58,335.33 L609.69,335.99 L609.80,336.65 L609.91,337.31 L610.02,337.97 L610.13,338.63 L610.24,339.29 L610.35,339.95 L610.46,340.61 L610.58,341.27 L610.69,341.93 L610.81,342.59 L610.92,343.25 L611.04,343.91 L611.16,344.57 L611.27,345.23 L611.39,345.88 L611.51,346.54 L611.63,347.20 L611.76,347.86 L611.88,348.52 L612.00,349.17 L612.13,349.83 L612.26,350.49 L612.39,351.15 L612.52,351.80 L612.65,352.46 L612.78,353.12 L612.91,353.77 L613.05,354.43 L613.18,355.08 L613.32,355.74 L613.46,356.39 L613.60,357.05 L613.75,357.70 L613.89,358.36 L614.04,359.01 L614.18,359.66 L614.33,360.32 L614.49,360.97 L614.64,361.62 L614.79,362.27 L614.95,362.93 L615.11,363.58 L615.27,364.23 L615.43,364.88 L615.59,365.53 L615.76,366.18 L615.92,366.83 L616.09,367.48 L616.26,368.13 L616.43,368.78 L616.60,369.43 L616.77,370.08 L616.95,370.73 L617.12,371.38 L617.30,372.03 L617.48,372.68 L617.66,373.33 L617.84,373.97 L618.02,374.62 L618.20,375.27 L618.39,375.92 L618.57,376.56 L618.76,377.21 L618.94,377.86 L619.13,378.50 L619.32,379.15 L619.51,379.80 L619.70,380.44 L619.89,381.09 L620.08,381.73 L620.27,382.38 L620.47,383.03 L620.66,383.67 L620.85,384.32 L621.05,384.96 L621.25,385.61 L621.44,386.25 L621.64,386.89 L621.84,387.54 L622.03,388.18 L622.23,388.83 L622.43,389.47 L622.63,390.12 L622.83,390.76 L623.03,391.40 L623.23,392.05 L623.43,392.69 L623.63,393.33 L623.83,393.98 L624.03,394.62 L624.23,395.26 L624.43,395.91 L624.63,396.55 L624.83,397.19 L625.03,397.84 L625.23,398.48 L625.43,399.12 L625.63,399.76 L625.83,400.41 L626.03,401.05 L626.23,401.69 L626.43,402.33 L626.63,402.98 L626.83,403.62 L627.03,404.26 L627.23,404.90 L627.43,405.55 L627.62,406.19 L627.82,406.83 L628.02,407.47 L628.21,408.12 L628.41,408.76 L628.61,409.40 L628.80,410.04 L628.99,410.69 L629.19,411.33 L629.38,411.97 L629.57,412.61 L629.76,413.26 L629.95,413.90 L630.14,414.54 L630.33,415.18 L630.52,415.83 L630.70,416.47 L630.89,417.11 L631.07,417.76 L631.26,418.40 L631.44,419.04 L631.62,419.68 L631.80,420.33 L631.98,420.97 L632.16,421.61 L632.34,422.26 L632.51,422.90 L632.69,423.54 L632.86,424.19 L633.04,424.83 L633.21,425.48 L633.38,426.12 L633.55,426.76 L633.72,427.41 L633.89,428.05 L634.06,428.70 L634.23,429.34 L634.39,429.98 L634.56,430.63 L634.73,431.27 L634.89,431.92 L635.06,432.56 L635.22,433.21 L635.39,433.85 L635.55,434.49 L635.71,435.14 L635.88,435.78 L636.04,436.43 L636.21,437.07 L636.37,437.72 L636.53,438.36 L636.70,439.01 L636.86,439.65 L637.02,440.30 L637.18,440.94 L637.35,441.58 L637.51,442.23 L637.68,442.87 L637.84,443.52 L638.00,444.16 L638.17,444.81 L638.33,445.45 L638.50,446.10 L638.66,446.74 L638.83,447.39 L639.00,448.03 L639.17,448.67 L639.33,449.32 L639.50,449.96 L639.67,450.61 L639.84,451.25 L640.01,451.90 L640.18,452.54 L640.36,453.18 L640.53,453.83 L640.70,454.47 L640.88,455.12 L641.05,455.76 L641.23,456.41 L641.41,457.05 L641.59,457.69 L641.77,458.34 L641.95,458.98 L642.14,459.62 L642.32,460.27 L642.51,460.91 L642.69,461.55 L642.88,462.20 L643.07,462.84 L643.26,463.48 L643.45,464.13 L643.65,464.77 L643.85,465.41 L644.04,466.06 L644.24,466.70 L644.44,467.34 L644.65,467.98 L644.85,468.63 L645.06,469.27 L645.27,469.91 L645.48,470.55 L645.69,471.19 L645.90,471.84 L646.12,472.48 L646.34,473.12 L646.56,473.76 L646.78,474.40 L647.00,475.04 L647.23,475.69 L647.46,476.33 L647.69,476.97 L647.93,477.61 L648.16,478.25 L648.40,478.89 L648.64,479.53 L648.89,480.17 L649.13,480.81 L649.38,481.44 L649.64,482.08 L649.89,482.72 L650.15,483.35 L650.41,483.99 L650.67,484.62 L650.94,485.25 L651.21,485.88 L651.48,486.50 L651.76,487.13 L652.04,487.75 L652.32,488.38 L652.61,488.99 L652.90,489.61 L653.20,490.23 L653.49,490.84 L653.80,491.45 L654.10,492.06 L654.41,492.66 L654.72,493.26 L655.04,493.86 L655.36,494.45 L655.69,495.04 L656.02,495.63 L656.35,496.21 L656.69,496.80 L657.03,497.37 L657.38,497.94 L657.73,498.51 L658.08,499.08 L658.44,499.64 L658.81,500.19 L659.18,500.74 L659.55,501.29 L659.93,501.83 L660.31,502.37 L660.70,502.90 L661.10,503.43 L661.50,503.95 L661.90,504.46 L662.31,504.98 L662.73,505.48 L663.15,505.98 L663.57,506.47 L664.00,506.96 L664.44,507.44 L664.88,507.92 L665.33,508.39 L665.78,508.85 L666.24,509.31 L666.71,509.75 L667.18,510.20 L667.66,510.63 L668.14,511.06 L668.63,511.48 L669.12,511.90 L669.63,512.31 L670.13,512.71 L670.65,513.10 L671.17,513.48 L671.70,513.86 L672.23,514.23 L672.77,514.59 L673.32,514.94 L673.87,515.28 L674.43,515.62 L675.00,515.95 L675.57,516.26 L676.16,516.57 L676.74,516.88 L677.34,517.17 L677.94,517.45 L678.55,517.72 L679.17,517.99 L679.79,518.25 L680.42,518.50 L681.05,518.74 L681.69,518.97 L682.34,519.20 L682.99,519.41 L683.64,519.63 L684.30,519.83 L684.96,520.03 L685.63,520.22 L686.30,520.41 L686.97,520.59 L687.65,520.76 L688.33,520.93 L689.01,521.09 L689.69,521.25 L690.38,521.40 L691.06,521.55 L691.75,521.69 L692.44,521.83 L693.13,521.97 L693.82,522.10 L694.51,522.23 L695.20,522.36 L695.89,522.48 L696.58,522.60 L697.27,522.72 L697.96,522.83 L698.65,522.94 L699.33,523.05 L700.02,523.16 L700.70,523.27 L701.38,523.37 L702.05,523.48 L702.72,523.58 L703.39,523.68 L704.06,523.79 L704.72,523.89 L705.38,523.99 L706.03,524.09 L706.68,524.19 L707.33,524.30 L707.97,524.40 L708.60,524.51 L709.23,524.61 L709.85,524.72 L710.46,524.83 L711.07,524.94 L711.67,525.06 L712.27,525.17 L712.86,525.29 L713.44,525.41 L714.01,525.54" stroke="#c8385a" stroke-width="2.95" fill="none" stroke-linejoin="round" stroke-linecap="round"/>
<path d="M586.5,101.6H654.4" stroke="#000" stroke-width="3.0"/>
<path d="M586.5,138.0H654.4" stroke="#c8385a" stroke-width="3.0"/>
<path d="M1091.09,528.00L1215.01,494.50 M1230.06,486.34L1358.14,371.86 M1373.41,364.78L1496.49,347.52 M1509.14,338.43L1642.16,72.57" fill="none" stroke="#000" stroke-width="2.9"/>
<rect x="1076.30" y="524.00" width="12.60" height="12.60" fill="#000"/>
<rect x="1217.20" y="485.90" width="12.60" height="12.60" fill="#000"/>
<rect x="1358.40" y="359.70" width="12.60" height="12.60" fill="#000"/>
<rect x="1498.90" y="340.00" width="12.60" height="12.60" fill="#000"/>
<rect x="1639.80" y="58.40" width="12.60" height="12.60" fill="#000"/>
<text x="86.80" y="540.80" font-size="24.50" text-anchor="end" fill="#000" color="#000">0.000</text>
<text x="86.80" y="453.62" font-size="24.50" text-anchor="end" fill="#000" color="#000">0.002</text>
<text x="86.80" y="366.44" font-size="24.50" text-anchor="end" fill="#000" color="#000">0.004</text>
<text x="86.80" y="279.26" font-size="24.50" text-anchor="end" fill="#000" color="#000">0.006</text>
<text x="86.80" y="192.08" font-size="24.50" text-anchor="end" fill="#000" color="#000">0.008</text>
<text x="86.80" y="104.90" font-size="24.50" text-anchor="end" fill="#000" color="#000">0.010</text>
<text x="86.80" y="17.72" font-size="24.50" text-anchor="end" fill="#000" color="#000">0.012</text>
<text x="145.60" y="607.70" font-size="24.50" text-anchor="middle" fill="#000" color="#000">0</text>
<text x="239.46" y="607.70" font-size="24.50" text-anchor="middle" fill="#000" color="#000">10</text>
<text x="333.32" y="607.70" font-size="24.50" text-anchor="middle" fill="#000" color="#000">20</text>
<text x="427.18" y="607.70" font-size="24.50" text-anchor="middle" fill="#000" color="#000">30</text>
<text x="521.04" y="607.70" font-size="24.50" text-anchor="middle" fill="#000" color="#000">40</text>
<text x="614.90" y="607.70" font-size="24.50" text-anchor="middle" fill="#000" color="#000">50</text>
<text x="708.76" y="607.70" font-size="24.50" text-anchor="middle" fill="#000" color="#000">60</text>
<text x="802.62" y="607.70" font-size="24.50" text-anchor="middle" fill="#000" color="#000">70</text>
<text x="1000.90" y="584.40" font-size="24.50" text-anchor="end" fill="#000" color="#000">0.1000</text>
<text x="1000.90" y="458.40" font-size="24.50" text-anchor="end" fill="#000" color="#000">0.1005</text>
<text x="1000.90" y="332.40" font-size="24.50" text-anchor="end" fill="#000" color="#000">0.1010</text>
<text x="1000.90" y="206.40" font-size="24.50" text-anchor="end" fill="#000" color="#000">0.1015</text>
<text x="1000.90" y="80.40" font-size="24.50" text-anchor="end" fill="#000" color="#000">0.1020</text>
<text x="1082.80" y="607.70" font-size="24.50" text-anchor="middle" fill="#000" color="#000">300</text>
<text x="1223.90" y="607.70" font-size="24.50" text-anchor="middle" fill="#000" color="#000">350</text>
<text x="1365.00" y="607.70" font-size="24.50" text-anchor="middle" fill="#000" color="#000">400</text>
<text x="1506.10" y="607.70" font-size="24.50" text-anchor="middle" fill="#000" color="#000">450</text>
<text x="1647.20" y="607.70" font-size="24.50" text-anchor="middle" fill="#000" color="#000">500</text>
<text x="451.10" y="652.70" font-size="29.50" text-anchor="middle" fill="#000" color="#000">Frequency (THz)</text>
<text x="1265.0" y="652.7" font-size="29.5">Temperature</text>
<text x="1400.8" y="653.7" font-size="28" font-family="'Noto Serif CJK SC', serif">（</text>
<text x="1427.6" y="652.7" font-size="29.5">K</text>
<text x="1449.0" y="653.7" font-size="28" font-family="'Noto Serif CJK SC', serif">）</text>
<text transform="translate(20.0,297.3) rotate(-90)" font-size="29.5" text-anchor="middle">PDOS</text>
<text transform="translate(921.3,291.0) rotate(-90)" font-size="29.5" text-anchor="middle">overlap factor</text>
<text x="660.50" y="111.60" font-size="29.00" text-anchor="start" fill="#000" color="#000">c-BN</text>
<text x="660.50" y="147.30" font-size="29.00" text-anchor="start" fill="#000" color="#000">diamond</text>
<text x="169.50" y="121.50" font-size="40.00" text-anchor="start" fill="#c8385a" color="#c8385a">300 K</text>
<text transform="translate(383.30,787.30) scale(0.810,1)" font-size="55.70" style="stroke-width:0.1px">(</text>
<text transform="translate(398.90,786.00) scale(1.100,1)" font-size="50.00" style="stroke-width:0.1px">a</text>
<text transform="translate(425.40,787.30) scale(0.810,1)" font-size="55.70" style="stroke-width:0.1px">)</text>
<text transform="translate(1295.40,787.30) scale(0.810,1)" font-size="55.70" style="stroke-width:0.1px">(</text>
<text transform="translate(1313.20,786.00) scale(1.040,1)" font-size="50.00" style="stroke-width:0.1px">b</text>
<text transform="translate(1339.60,787.30) scale(0.810,1)" font-size="55.70" style="stroke-width:0.1px">)</text>
</svg>
</body></html>
